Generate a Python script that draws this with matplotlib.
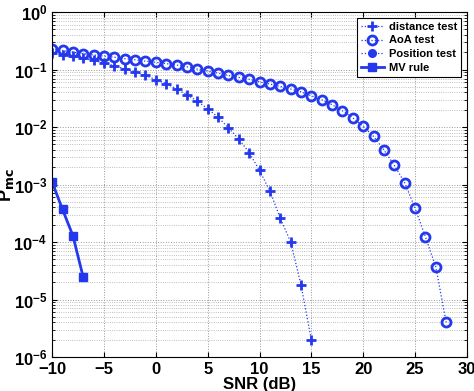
import matplotlib
matplotlib.use("Agg")
import matplotlib.pyplot as plt
import numpy as np
from matplotlib.ticker import LogLocator, NullFormatter

plt.rcParams["font.family"] = ["Liberation Sans", "DejaVu Sans"]
plt.rcParams["font.weight"] = "bold"
plt.rcParams["mathtext.default"] = "bf"

BLUE = "#2438ee"

snr_distance = list(range(-10, 16))
p_distance = [0.194, 0.181, 0.169, 0.158, 0.144, 0.130, 0.117, 0.103, 0.092, 0.079,
              0.067, 0.057, 0.046, 0.0365, 0.0283, 0.0208, 0.0149, 0.0097, 0.0062,
              0.0036, 0.00176, 0.00077, 0.00026, 0.000101, 1.8e-5, 2.0e-6]

snr_aoa = list(range(-10, 29))
p_aoa = [0.230, 0.215, 0.201, 0.189, 0.180, 0.172, 0.164, 0.155, 0.148, 0.140,
         0.134, 0.127, 0.120, 0.112, 0.102, 0.094, 0.087, 0.079, 0.073, 0.068,
         0.061, 0.056, 0.051, 0.046, 0.041, 0.035, 0.0298, 0.0245, 0.0192, 0.0145,
         0.0103, 0.0069, 0.0040, 0.00216, 0.00108, 0.00039, 0.000123, 3.7e-5, 4.0e-6]

# position test is drawn under the AoA circles in the original; only its legend entry shows
snr_position = []
p_position = []

snr_mv = [-10, -9, -8, -7]
p_mv = [1.1e-3, 3.7e-4, 1.29e-4, 2.43e-5]

fig = plt.figure(figsize=(4.74, 3.91), dpi=100)
ax = fig.add_axes([0.110, 0.087, 0.875, 0.882])

ax.semilogy(snr_distance, p_distance, linestyle=":", color=BLUE, linewidth=0.9,
            marker="+", markersize=7, markeredgewidth=2.0, label="distance test")
ax.semilogy(snr_aoa, p_aoa, linestyle=":", color=BLUE, linewidth=0.9,
            marker="o", markersize=6.5, markerfacecolor="none", markeredgewidth=2.0,
            label="AoA test")
ax.semilogy(snr_position, p_position, linestyle=":", color=BLUE, linewidth=0.9,
            marker="o", markersize=5.5, label="Position test")
ax.semilogy(snr_mv, p_mv, linestyle="-", color=BLUE, linewidth=2.0,
            marker="s", markersize=6, label="MV rule")

ax.set_xlim(-10, 30)
ax.set_ylim(1e-6, 1)
ax.set_xticks([-10, -5, 0, 5, 10, 15, 20, 25, 30])
ax.set_xticklabels(["\u221210", "\u22125", "0", "5", "10", "15", "20", "25", "30"])
ax.yaxis.set_major_locator(LogLocator(base=10, numticks=10))
ax.yaxis.set_minor_locator(LogLocator(base=10, subs=np.arange(2, 10), numticks=20))
ax.yaxis.set_minor_formatter(NullFormatter())

ax.grid(True, which="major", linestyle=":", color="#999999", linewidth=0.7)
ax.grid(True, which="minor", axis="y", linestyle=":", color="#aaaaaa", linewidth=0.6)
ax.tick_params(direction="in", which="both", top=True, right=True, labelsize=12)
ax.tick_params(which="minor", length=2)
for lbl in ax.get_xticklabels() + ax.get_yticklabels():
    lbl.set_fontweight("bold")

ax.set_xlabel("SNR (dB)", fontsize=12, fontweight="bold", labelpad=0)
ax.set_ylabel("P$_{mc}$", fontsize=13, fontweight="bold", labelpad=-2)

leg = ax.legend(loc="upper right", fontsize=8, fancybox=False, framealpha=1,
                edgecolor="black", borderpad=0.35, labelspacing=0.35,
                handlelength=2.0, handletextpad=0.5, borderaxespad=0.5)
leg.get_frame().set_linewidth(0.8)
for t in leg.get_texts():
    t.set_fontweight("bold")

fig.savefig("out.png", dpi=100)
